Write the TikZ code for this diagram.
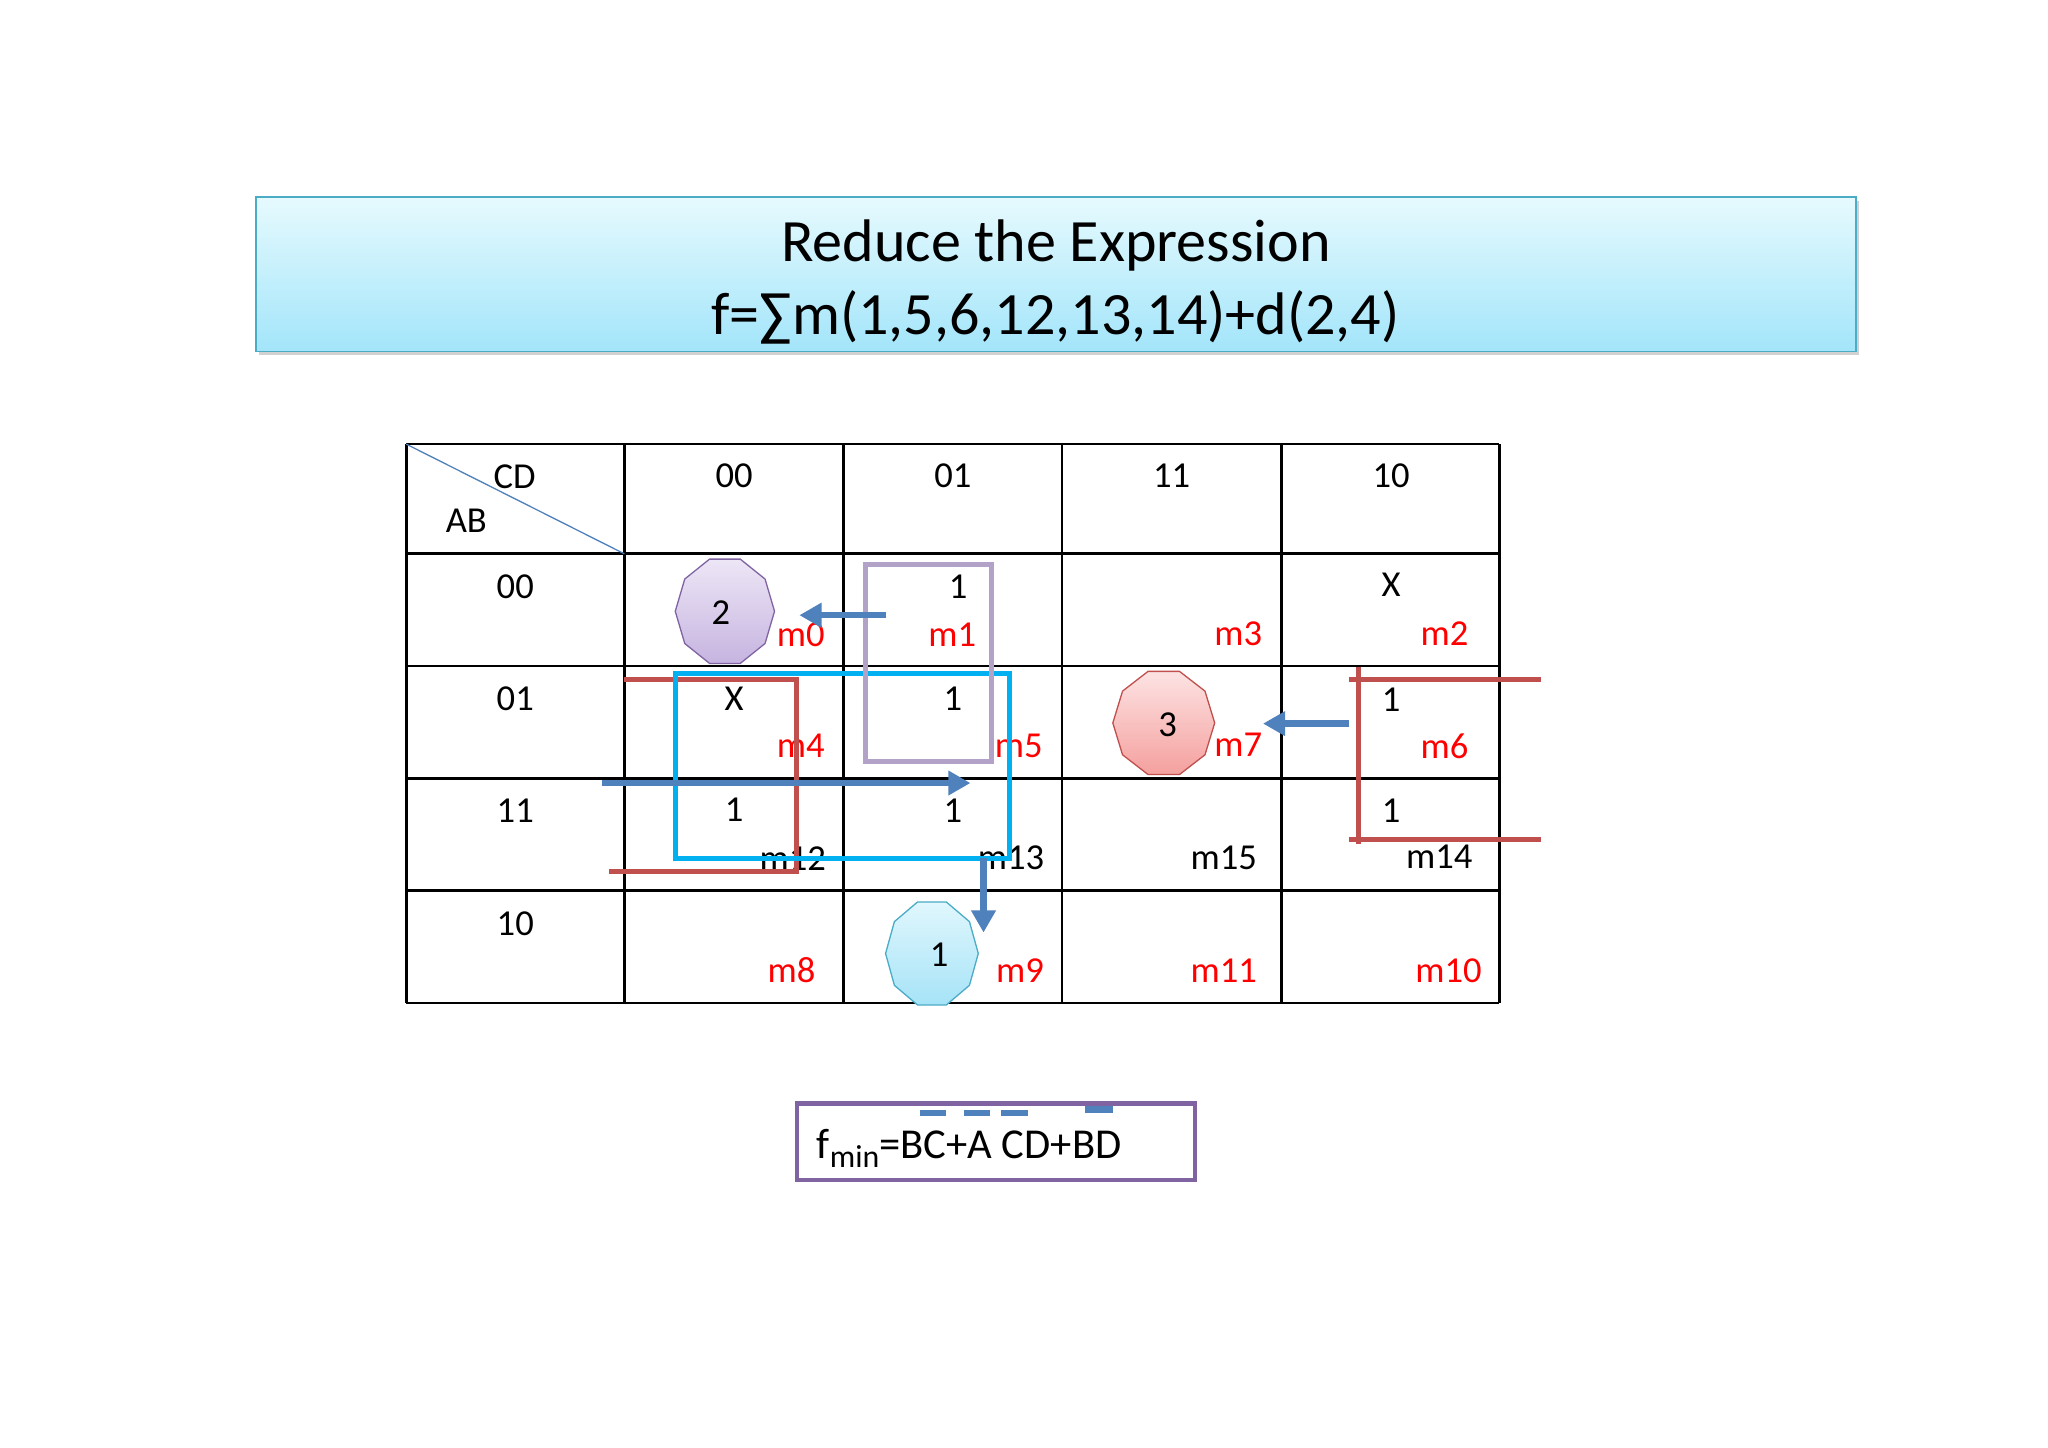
\documentclass[tikz,border=0pt]{standalone}
\usepackage{fontspec}
\setmainfont{Carlito}
\usetikzlibrary{arrows.meta}
\definecolor{titletop}{HTML}{E6FAFE}
\definecolor{titlebot}{HTML}{A3E5FA}
\definecolor{titleline}{HTML}{4BACC6}
\definecolor{grpred}{HTML}{C0504D}
\definecolor{grpcyan}{HTML}{00B0F0}
\definecolor{grppurple}{HTML}{B3A2C7}
\definecolor{arrowblue}{HTML}{4F81BD}
\definecolor{boxpurple}{HTML}{8064A2}
\definecolor{dectop}{HTML}{EDE6F6}
\definecolor{decbot}{HTML}{C6B4E0}
\definecolor{redtop}{HTML}{FDE3E3}
\definecolor{redbot}{HTML}{F4A09E}
\definecolor{cyantop}{HTML}{E0F7FD}
\definecolor{cyanbot}{HTML}{A6E3F7}
\begin{document}
\begin{tikzpicture}[x=0.5pt,y=-0.5pt,
  gridtxt/.style={font=\fontsize{14}{16}\selectfont, inner sep=0pt},
  lbl/.style={gridtxt, text=red},
  lblk/.style={gridtxt, text=black},
  arr/.style={draw=arrowblue, line width=2.5pt, -{Triangle[length=8.5pt,width=9pt]}},
  grpline/.style={line width=1.9pt},
  titletxt/.style={font=\fontsize{23}{28}\selectfont, inner sep=0pt, anchor=base}
]
\useasboundingbox (0,0) rectangle (1568,1108);
\fill[white] (0,0) rectangle (1568,1108);

% title box
\fill[black, opacity=0.18] (198,154) rectangle (1423,272);
\path[top color=titletop, bottom color=titlebot, draw=titleline, line width=0.6pt] (196,151) rectangle (1421,269);
\node[titletxt] (t1) at (808.5,200) {Reduce the Expression};
\node[titletxt] (t2) at (808,256) {f=∑m(1,5,6,12,13,14)+d(2,4)};

% grid
\foreach \xx in {311,478,646,813,981,1148}
  \draw[line width=1pt] (\xx,340) -- (\xx,768);
\foreach \yy in {340,424,510,596,682,768}
  \draw[line width=1pt] (311,\yy) -- (1148,\yy);
\draw[arrowblue, line width=0.5pt] (311,340) -- (478,424);

% headers
\node[gridtxt] (hCD) at (394,365) {CD};
\node[gridtxt] (hAB) at (357,399) {AB};
\node[gridtxt] (c00) at (562,364) {00};
\node[gridtxt] (c01) at (729.5,364) {01};
\node[gridtxt] (c11) at (897,364) {11};
\node[gridtxt] (c10) at (1065,364) {10};
\node[gridtxt] (r00) at (394.5,449) {00};
\node[gridtxt] (r01) at (394.5,535) {01};
\node[gridtxt] (r11) at (394.5,621) {11};
\node[gridtxt] (r10) at (394.5,707) {10};

% values
\node[gridtxt] (v1) at (733.5,449) {1};
\node[gridtxt] (v2) at (1065,448) {X};
\node[gridtxt] (v4) at (562,535) {X};
\node[gridtxt] (v5) at (729.5,535) {1};
\node[gridtxt] (v6) at (1065,536) {1};
\node[gridtxt] (v12) at (562,620) {1};
\node[gridtxt] (v13) at (729.5,621) {1};
\node[gridtxt] (v14) at (1065,621) {1};

% minterm labels
\node[lbl] (m0) at (613,486) {m0};
\node[lbl] (m1) at (729,486) {m1};
\node[lbl] (m3) at (948,485) {m3};
\node[lbl] (m2) at (1106,485) {m2};
\node[lbl] (m4) at (613,571) {m4};
\node[lbl] (m5) at (780,571) {m5};
\node[lbl] (m7) at (948,570) {m7};
\node[lbl] (m6) at (1106,571) {m6};
\node[lblk] (m12) at (607,657) {m12};
\node[lblk] (m13) at (774,657) {m13};
\node[lblk] (m15) at (937,657) {m15};
\node[lblk] (m14) at (1102,656) {m14};
\node[lbl] (m8) at (606,743) {m8};
\node[lbl] (m9) at (781,743) {m9};
\node[lbl] (m11) at (937,743) {m11};
\node[lbl] (m10) at (1109,743) {m10};

% groupings
\draw[grpline, grpred] (478,520) -- (610,520) -- (610,667) -- (466,667);
\draw[grpline, grpred] (1040,511) -- (1040,646);
\draw[grpline, grpred] (1033,520) -- (1180,520);
\draw[grpline, grpred] (1033,643) -- (1180,643);
\draw[grpline, grpcyan] (517,516) rectangle (773,657);
\draw[grpline, grppurple] (663,432) rectangle (759,583);

% decagons
\path[top color=dectop, bottom color=decbot, draw=boxpurple, line width=0.5pt]
  (593,468) \foreach \k in {1,...,9}{ -- ({555+38*cos(36*\k)},{468+42*sin(36*\k)}) } -- cycle;
\node[gridtxt] (n2) at (552,469) {2};
\path[top color=redtop, bottom color=redbot, draw=grpred, line width=0.5pt]
  (930,553.5) \foreach \k in {1,...,9}{ -- ({891+39*cos(36*\k)},{553.5+41.5*sin(36*\k)}) } -- cycle;
\node[gridtxt] (n3) at (894,555) {3};
\path[top color=cyantop, bottom color=cyanbot, draw=titleline, line width=0.5pt]
  (749,730) \foreach \k in {1,...,9}{ -- ({713.5+35.5*cos(36*\k)},{730+41.5*sin(36*\k)}) } -- cycle;
\node[gridtxt] (n1) at (719,731) {1};

% arrows
\coordinate (a2s) at (678,471);
\coordinate (a2e) at (612,471);
\coordinate (a3s) at (1033,554);
\coordinate (a3e) at (967,554);
\coordinate (ahs) at (461,599.5);
\coordinate (ahe) at (743,599.5);
\coordinate (ads) at (753,657);
\coordinate (ade) at (753,714);
\draw[arr] (a2s) -- (a2e);
\draw[arr] (a3s) -- (a3e);
\draw[arr] (ahs) -- (ahe);
\draw[arr] (ads) -- (ade);

% result box
\draw[boxpurple, line width=1.7pt] (610,845) rectangle (915,903.5);
\node[anchor=base west, inner sep=0pt, font=\fontsize{16.3}{20}\selectfont] (fmin) at (625,887)
  {f\raisebox{-3.5pt}{\fontsize{12.2}{14}\selectfont min}=BC+A CD+BD};
\fill[arrowblue] (704,850) rectangle (724,854.5);
\fill[arrowblue] (738,850) rectangle (758,854.5);
\fill[arrowblue] (766,850) rectangle (787,854.5);
\fill[arrowblue] (831,847) rectangle (852,852);
\end{tikzpicture}
\end{document}
